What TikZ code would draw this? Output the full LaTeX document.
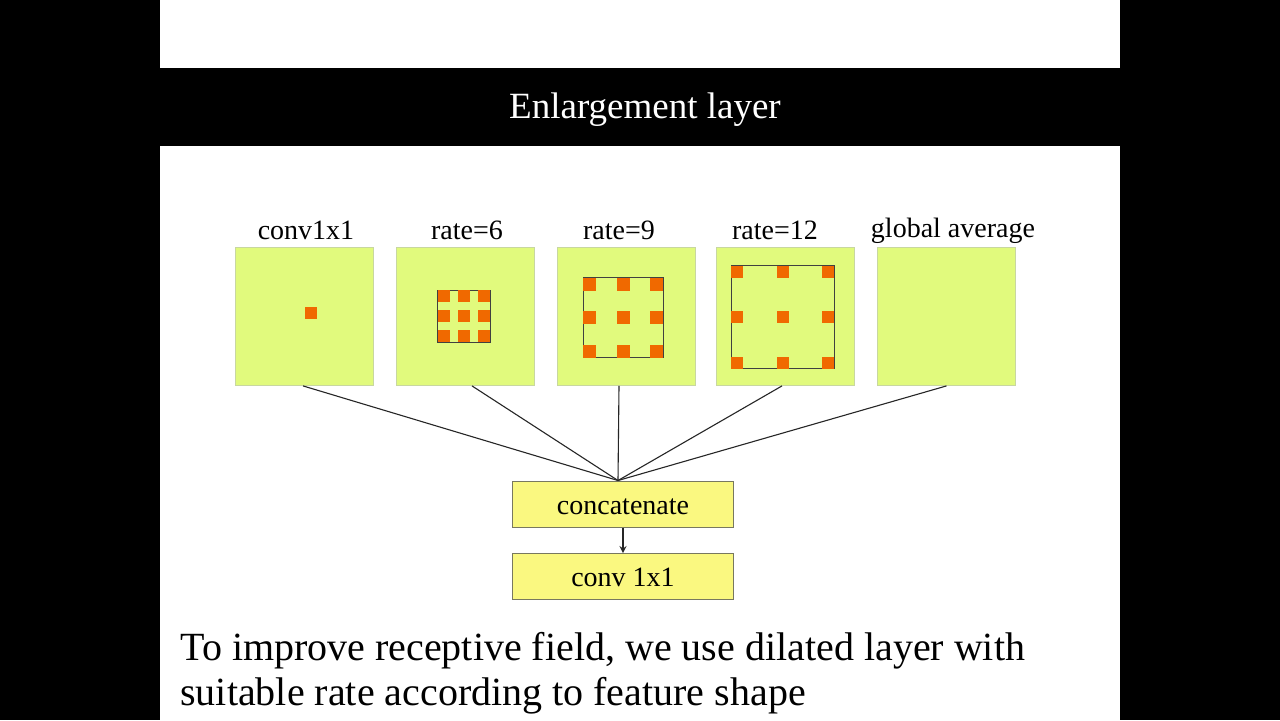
\documentclass[tikz,border=0pt]{standalone}
\usepackage{fontspec}
\setmainfont{Liberation Serif}
\usepackage{tikz}

\definecolor{fieldfill}{RGB}{225,250,125}
\definecolor{fieldedge}{RGB}{200,215,160}
\definecolor{boxfill}{RGB}{250,248,128}
\definecolor{boxedge}{RGB}{120,120,95}
\definecolor{tap}{RGB}{240,105,0}

\begin{document}
\begin{tikzpicture}[x=0.5pt,y=-0.5pt,>=stealth]
    \tikzset{
        field/.style={
            draw=fieldedge,line width=0.4pt,fill=fieldfill,
            minimum size=69pt,inner sep=0pt
        },
        lbl/.style={anchor=base,font=\fontsize{14}{16}\selectfont},
        stage/.style={
            draw=boxedge,line width=0.5pt,fill=boxfill,
            minimum width=110.5pt,minimum height=23pt,inner sep=0pt,
            text height=10pt,text depth=0pt,font=\fontsize{14}{16}\selectfont
        },
        frame/.style={draw=black!75,line width=0.5pt},
        link/.style={draw=black!85,line width=0.55pt},
        note/.style={anchor=base west,inner sep=0pt,
            font=\fontsize{20}{24}\selectfont}
    }

    % slide and title band
    \fill[black] (0,0) rectangle (1280,720);
    \fill[white] (160,0) rectangle (1120,720);
    \fill[black] (160,68) rectangle (1120,146);
    \node[anchor=base,text=white,font=\fontsize{18.5}{22}\selectfont]
        (title) at (645,118) {Enlargement layer};

    % branches
    \node[field] (c1) at (304.5,316.5) {};
    \node[field] (c2) at (465,316.5) {};
    \node[field] (c3) at (626,316.5) {};
    \node[field] (c4) at (785.5,316.5) {};
    \node[field] (c5) at (946.5,316.5) {};

    \node[lbl] (l1) at (306,239) {conv1x1};
    \node[lbl] (l2) at (467,239) {rate=6};
    \node[lbl] (l3) at (619,239) {rate=9};
    \node[lbl] (l4) at (775,239) {rate=12};
    \node[lbl] (l5) at (953,237) {global average};

    % kernels
    \fill[tap] (304.5,307) rectangle (316.5,319);

    \draw[frame] (437,290) rectangle (490,342);
    \foreach \dx in {-20,0,20}
        \foreach \dy in {-20,0,20}
            \fill[tap] (464+\dx-6,316+\dy-6) rectangle ++(12,12);

    \draw[frame] (583,277.5) rectangle (663,357.5);
    \foreach \dx in {-33.5,0,33.5}
        \foreach \dy in {-33.5,0,33.5}
            \fill[tap] (623+\dx-6.5,317.5+\dy-6.5) rectangle ++(13,13);

    \draw[frame] (731,265.5) rectangle (834,368.5);
    \foreach \dx in {-45.5,0,45.5}
        \foreach \dy in {-45.5,0,45.5}
            \fill[tap] (782.5+\dx-6,317+\dy-6) rectangle ++(12,12);

    % merge
    \node[stage] (cat) at (623,504) {concatenate};
    \node[stage] (conv) at (623,576.5) {conv 1x1};
    \coordinate (hub) at ([xshift=-2.5pt]cat.north);

    \draw[link] ([xshift=-0.75pt]c1.south) -- (hub);
    \draw[link] ([xshift=3.5pt]c2.south) -- (hub);
    \draw[link] ([xshift=-3.5pt]c3.south) -- (hub);
    \draw[link] ([xshift=-1.75pt]c4.south) -- (hub);
    \draw[link] (c5.south) -- (hub);
    \draw[link,->] (cat.south) -- (conv.north);

    \node[note] (note1) at (180,660)
        {To improve receptive field, we use dilated layer with};
    \node[note] (note2) at (180,705)
        {suitable rate according to feature shape};
\end{tikzpicture}
\end{document}
